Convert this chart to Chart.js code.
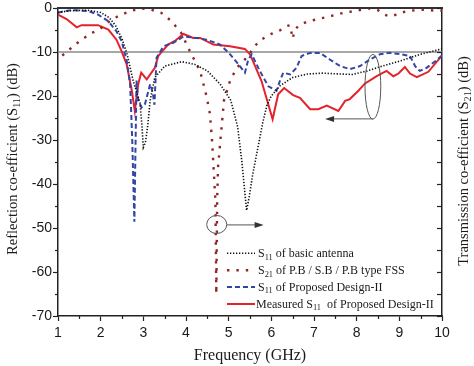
<!DOCTYPE html>
<html><head><meta charset="utf-8">
<script src="https://cdn.jsdelivr.net/npm/chart.js@4.4.0/dist/chart.umd.min.js"></script>
<style>html,body{margin:0;padding:0;background:#fff;}canvas{display:block;}</style>
</head><body>
<canvas id="c" width="474" height="366"></canvas>
<script>
// ---------- data ----------
const basicFreq = [1.0, 1.3, 1.7, 2.0, 2.2, 2.35, 2.5, 2.62, 2.76, 2.92, 2.97, 3.0, 3.05, 3.1, 3.16, 3.27, 3.5, 3.9, 4.2, 4.5, 4.8, 5.05, 5.21, 5.31, 5.38, 5.42, 5.48, 5.56, 5.62, 5.72, 5.8, 5.9, 6.0, 6.2, 6.5, 6.85, 7.2, 7.6, 7.9, 8.25, 8.6, 9.0, 9.5, 10.0];
const basicS11  = [-1.0, -0.6, -0.5, -1.0, -2.2, -4.0, -7.0, -10.5, -16.5, -21.5, -27, -31.7, -30.5, -27, -21, -15.8, -13.2, -12.2, -12.8, -14.3, -17.3, -21, -27, -35, -42, -46, -43, -38, -35, -30, -26, -22, -20, -17.7, -15.8, -15.0, -14.8, -15.0, -15.1, -14.3, -13.2, -12.1, -10.5, -9.3];

const fssFreq = [1.1, 1.32, 1.55, 1.79, 2.02, 2.26, 2.49, 2.73, 2.96, 3.19, 3.42, 3.66, 3.89, 4.09, 4.33, 4.48, 4.56, 4.61, 4.65, 4.69, 4.71, 4.73, 4.75, 4.82, 4.89, 5.03, 5.19, 5.34, 5.46, 5.58, 5.73, 5.97, 6.2, 6.36, 6.44, 6.5, 6.55, 6.67, 6.87, 7.06, 7.37, 7.69, 8.0, 8.27, 8.5, 8.62, 8.78, 8.94, 9.02, 9.25, 9.56, 9.87, 10.0];
const fssS21  = [-10.8, -9.0, -7.2, -5.7, -4.5, -2.6, -1.5, -0.6, -0.1, -0.4, -1.1, -3.0, -5.7, -9.8, -14.3, -20.0, -24.0, -30.0, -37.0, -44.0, -65.0, -44.0, -36.2, -28.6, -21.0, -16.6, -13.6, -12.1, -10.9, -9.0, -7.4, -6.0, -5.1, -4.1, -3.9, -7.0, -4.9, -3.8, -3.0, -2.6, -1.9, -1.1, -0.6, -0.1, -0.5, -1.4, -1.9, -1.5, -1.1, -0.6, -0.4, -0.6, -0.6];

const designFreq = [1.0, 1.15, 1.32, 1.71, 1.94, 2.18, 2.37, 2.49, 2.61, 2.69, 2.74, 2.79, 2.84, 2.88, 2.96, 3.04, 3.12, 3.16, 3.22, 3.26, 3.31, 3.47, 3.70, 3.94, 4.25, 4.48, 4.80, 5.03, 5.23, 5.38, 5.46, 5.54, 5.73, 5.93, 6.12, 6.2, 6.28, 6.44, 6.59, 6.71, 6.91, 7.14, 7.37, 7.61, 7.84, 8.08, 8.31, 8.55, 8.78, 9.02, 9.25, 9.37, 9.48, 9.64, 9.84, 10.0];
const designS11  = [-1.1, -0.7, -0.5, -0.7, -1.5, -3.0, -5.3, -7.5, -12.0, -17.3, -30.0, -48.6, -16.5, -21.0, -22.6, -21.8, -18.8, -17.3, -19.2, -22.0, -11.3, -8.7, -7.9, -6.5, -6.8, -7.2, -8.3, -10.5, -12.8, -14.7, -11.7, -10.5, -14.3, -17.8, -18.8, -16.6, -14.7, -15.1, -13.6, -10.9, -10.2, -10.2, -11.7, -13.2, -13.9, -13.2, -11.7, -10.5, -10.2, -10.5, -10.9, -13.2, -14.3, -13.6, -12.1, -10.8];

const measFreq = [1.0, 1.2, 1.44, 1.55, 1.94, 2.18, 2.37, 2.49, 2.61, 2.73, 2.80, 2.88, 2.95, 3.08, 3.27, 3.35, 3.58, 3.74, 3.94, 4.17, 4.33, 4.64, 5.03, 5.38, 5.5, 5.77, 6.03, 6.16, 6.30, 6.51, 6.67, 6.91, 7.1, 7.30, 7.57, 7.73, 7.84, 8.04, 8.19, 8.47, 8.70, 8.86, 8.98, 9.13, 9.25, 9.41, 9.68, 10.0];
const measS11  = [-1.5, -2.5, -4.4, -3.9, -3.9, -4.9, -7.2, -9.8, -12.8, -18.8, -23.4, -17.3, -14.7, -16.2, -13.6, -10.9, -8.3, -7.5, -5.9, -6.8, -6.8, -8.3, -8.7, -9.3, -10.5, -16.6, -25.3, -19.6, -18.2, -19.8, -20.4, -23.0, -23.0, -22.2, -23.4, -21.1, -20.7, -18.8, -17.2, -15.5, -14.3, -15.5, -14.9, -13.4, -14.9, -15.7, -14.5, -10.8];

const xTickLabels = ['1','2','3','4','5','6','7','8','9','10'];
const yTickLabels = ['0','-10','-20','-30','-40','-50','-60','-70'];
const refLevel = -10;

// annotation anchors in data space
const ellipseA = {x: 4.72, y: -49.2, rx: 0.235, ry: 2.05};
const arrowA   = {x1: 4.96, x2: 5.82, y: -49.3};
const ellipseB = {x: 8.38, y: -17.9, rx: 0.185, ry: 7.35};
const arrowB   = {x1: 8.38, x2: 7.26, y: -25.2};

const legendRows = [
  [{t:'S'},{t:'11',sub:true},{t:' of basic antenna'}],
  [{t:'S'},{t:'21',sub:true},{t:' of P.B / S.B / P.B type FSS'}],
  [{t:'S'},{t:'11',sub:true},{t:' of Proposed Design-II'}],
  [{t:'Measured S'},{t:'11',sub:true},{t:'  of Proposed Design-II'}]
];

// ---------- helpers ----------
const SERIF = '"Liberation Serif","Times New Roman",serif';
const SANS = '"Liberation Sans",Arial,sans-serif';
const pts = (xs, ys) => xs.map((x, i) => ({x, y: ys[i]}));

function richWidth(ctx, parts, size){
  let w = 0;
  for (const p of parts){ ctx.font = (p.sub ? size*0.7 : size) + 'px ' + SERIF; w += ctx.measureText(p.t).width; }
  return w;
}
function drawRich(ctx, parts, x, y, size){
  let cx = x;
  for (const p of parts){
    const s = p.sub ? size*0.7 : size;
    ctx.font = s + 'px ' + SERIF;
    ctx.fillText(p.t, cx, p.sub ? y + size*0.2 : y);
    cx += ctx.measureText(p.t).width;
  }
}

const deco = {
  id: 'deco',
  beforeDatasetsDraw(chart){
    const {ctx, chartArea: a, scales: {y}} = chart;
    const yy = y.getPixelForValue(refLevel);
    ctx.save();
    ctx.strokeStyle = '#8a8a8a'; ctx.lineWidth = 1.5;
    ctx.beginPath(); ctx.moveTo(a.left, yy); ctx.lineTo(a.right, yy); ctx.stroke();
    ctx.restore();
  },
  afterDraw(chart){
    const {ctx, chartArea: a, scales: {x, y}} = chart;
    ctx.save();
    // top frame
    ctx.strokeStyle = '#333'; ctx.lineWidth = 2;
    ctx.beginPath(); ctx.moveTo(a.left - 1, a.top); ctx.lineTo(a.right + 1, a.top); ctx.stroke();
    // minor ticks
    ctx.strokeStyle = '#222'; ctx.lineWidth = 1.2;
    for (let f = 1.5; f < 10; f += 1){
      const px = Math.round(x.getPixelForValue(f)) + 0.5;
      ctx.beginPath(); ctx.moveTo(px, a.bottom); ctx.lineTo(px, a.bottom + 3); ctx.stroke();
    }
    for (let v = -5; v > -70; v -= 10){
      const py = Math.round(y.getPixelForValue(v)) + 0.5;
      ctx.beginPath(); ctx.moveTo(a.left, py); ctx.lineTo(a.left - 3, py); ctx.stroke();
    }
    // right axis ticks (inward)
    for (let v = 0; v >= -70; v -= 5){
      const py = Math.round(y.getPixelForValue(v)) + 0.5;
      ctx.beginPath(); ctx.moveTo(a.right, py); ctx.lineTo(a.right - 5, py); ctx.stroke();
    }
    // ellipses
    ctx.strokeStyle = '#555'; ctx.lineWidth = 1;
    for (const e of [ellipseA, ellipseB]){
      const cx = x.getPixelForValue(e.x), cy = y.getPixelForValue(e.y);
      const rx = x.getPixelForValue(e.x + e.rx) - cx, ry = cy - y.getPixelForValue(e.y + e.ry);
      ctx.beginPath(); ctx.ellipse(cx, cy, rx, ry, 0, 0, Math.PI*2); ctx.stroke();
    }
    // arrows
    for (const ar of [arrowA, arrowB]){
      const x1 = x.getPixelForValue(ar.x1), x2 = x.getPixelForValue(ar.x2), py = y.getPixelForValue(ar.y);
      const dir = Math.sign(x2 - x1);
      ctx.strokeStyle = '#555'; ctx.lineWidth = 1;
      ctx.beginPath(); ctx.moveTo(x1, py); ctx.lineTo(x2 - dir*6, py); ctx.stroke();
      ctx.fillStyle = '#333';
      ctx.beginPath(); ctx.moveTo(x2, py); ctx.lineTo(x2 - dir*9, py - 3); ctx.lineTo(x2 - dir*9, py + 3); ctx.closePath(); ctx.fill();
    }
    // legend
    const ds = chart.data.datasets;
    const lx = a.left + 169, lineEnd = lx + 28;
    const rowY = [a.bottom - 62.7, a.bottom - 45.7, a.bottom - 29, a.bottom - 12];
    const textX = [lineEnd + 3, lineEnd + 3, lineEnd + 3, lineEnd + 1];
    for (let i = 0; i < 4; i++){
      const d = ds[i];
      ctx.save();
      ctx.strokeStyle = d.borderColor; ctx.lineWidth = d.borderWidth;
      ctx.setLineDash(d.borderDash || []);
      ctx.beginPath(); ctx.moveTo(lx, rowY[i]); ctx.lineTo(lineEnd, rowY[i]); ctx.stroke();
      ctx.restore();
      ctx.fillStyle = '#1a1a1a'; ctx.textBaseline = 'alphabetic'; ctx.textAlign = 'left';
      drawRich(ctx, legendRows[i], textX[i], rowY[i] + 4, 12);
    }
    // axis titles (vertical)
    const yMid = (a.top + a.bottom) / 2;
    const leftTitle = [{t:'Reflection co-efficient (S'},{t:'11',sub:true},{t:') (dB)'}];
    const rightTitle = [{t:'Transmission co-efficient (S'},{t:'21',sub:true},{t:') (dB)'}];
    ctx.fillStyle = '#1a1a1a';
    for (const [parts, cxp, cyp] of [[leftTitle, 12, yMid - 3], [rightTitle, a.right + 21, yMid - 1]]){
      ctx.save();
      ctx.translate(cxp, cyp); ctx.rotate(-Math.PI/2);
      const w = richWidth(ctx, parts, 14.5);
      drawRich(ctx, parts, -w/2, 5, 14.5);
      ctx.restore();
    }
    ctx.restore();
  }
};

const tickFont = {family: SANS, size: 14, lineHeight: 1};

new Chart(document.getElementById('c'), {
  type: 'line',
  data: {
    datasets: [
      {label: 'S11 of basic antenna', data: pts(basicFreq, basicS11), borderColor: '#111111', borderWidth: 1.6, borderDash: [1.3, 1.7], pointRadius: 0, tension: 0, fill: false},
      {label: 'S21 of P.B / S.B / P.B type FSS', data: pts(fssFreq, fssS21), borderColor: '#8e2626', borderWidth: 2.4, borderDash: [2.4, 7], pointRadius: 0, tension: 0, fill: false},
      {label: 'S11 of Proposed Design-II', data: pts(designFreq, designS11), borderColor: '#3346a6', borderWidth: 2, borderDash: [5, 3], pointRadius: 0, tension: 0, fill: false},
      {label: 'Measured S11 of Proposed Design-II', data: pts(measFreq, measS11), borderColor: '#e3222b', borderWidth: 2, pointRadius: 0, tension: 0, fill: false}
    ]
  },
  options: {
    responsive: false, animation: false, devicePixelRatio: 1,
    layout: {padding: {top: 0, left: 0, right: 0, bottom: 0}},
    plugins: {legend: {display: false}, tooltip: {enabled: false}},
    scales: {
      x: {
        type: 'linear', min: 1, max: 10,
        border: {display: true, color: '#222', width: 1.5},
        grid: {drawOnChartArea: false, drawTicks: true, tickLength: 5, color: '#222', tickWidth: 1.2},
        ticks: {stepSize: 1, color: '#1a1a1a', font: tickFont, padding: 5, maxRotation: 0,
                callback: (v) => xTickLabels[Math.round(v) - 1] ?? ''},
        title: {display: true, text: 'Frequency (GHz)', color: '#1a1a1a', font: {family: SERIF, size: 16, lineHeight: 1.2}, padding: {top: 0, bottom: 1}},
        afterFit: (s) => { s.height = 50; }
      },
      y: {
        type: 'linear', position: 'left', min: -70, max: 0,
        border: {display: true, color: '#222', width: 1.5},
        grid: {drawOnChartArea: false, drawTicks: true, tickLength: 5, color: '#222', tickWidth: 1.2},
        ticks: {stepSize: 10, color: '#1a1a1a', font: tickFont, padding: 1,
                callback: (v) => yTickLabels[Math.round(-v / 10)] ?? ''},
        afterFit: (s) => { s.width = 58; }
      },
      y2: {
        type: 'linear', position: 'right', min: -70, max: 0,
        border: {display: true, color: '#222', width: 1.5},
        grid: {display: false, drawOnChartArea: false, drawTicks: false},
        ticks: {display: false},
        afterFit: (s) => { s.width = 32; }
      }
    }
  },
  plugins: [deco]
});
</script>
</body></html>
